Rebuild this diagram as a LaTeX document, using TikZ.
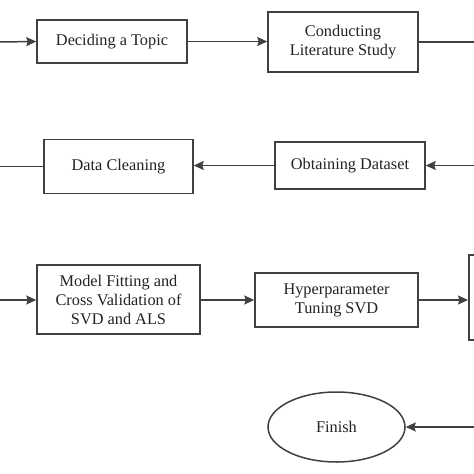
\documentclass[tikz,border=0pt]{standalone}
\usepackage{fontspec}
\setmainfont{Liberation Serif}
\usetikzlibrary{shapes.geometric,arrows.meta}
\definecolor{linegray}{HTML}{404040}
\definecolor{textgray}{HTML}{222222}
\tikzset{
  stepbox/.style={draw=linegray, line width=1.5pt, rectangle, align=center,
    text=textgray, font=\fontsize{16.3}{19}\selectfont, inner sep=0pt},
  endbox/.style={draw=linegray, line width=1.5pt, ellipse, align=center,
    text=textgray, font=\fontsize{16.3}{19}\selectfont, inner sep=0pt},
  flow/.style={draw=linegray, line width=1.5pt,
    -{Stealth[length=10pt,width=9pt,inset=1.5pt]}},
  plainline/.style={draw=linegray, line width=1.5pt}
}
\begin{document}
\begin{tikzpicture}[x=1pt,y=-1pt]
\useasboundingbox (0,0) rectangle (474,474);
\clip (0,0) rectangle (474,474);
% row 1
\node[stepbox, minimum width=150pt, minimum height=43pt] (topic) at (112,41.5) {Deciding a Topic};
\node[stepbox, minimum width=150pt, minimum height=60pt] (lit) at (343,42) {Conducting\\Literature Study};
\coordinate (in1) at (-2,42);
\coordinate (out1) at (476,42);
% row 2
\node[stepbox, minimum width=149pt, minimum height=54pt] (clean) at (118.5,166.5) {Data Cleaning};
\node[stepbox, minimum width=150pt, minimum height=47pt] (obtain) at (350,165.5) {Obtaining Dataset};
\coordinate (in2) at (476,165.5);
\coordinate (out2) at (-2,166.5);
% row 3
\node[stepbox, minimum width=163pt, minimum height=69pt] (model) at (118.5,299.5) {Model Fitting and\\Cross Validation of\\SVD and ALS};
\node[stepbox, minimum width=163pt, minimum height=54pt] (hyper) at (336.5,300) {Hyperparameter\\Tuning SVD};
\node[stepbox, minimum width=40pt, minimum height=85pt, anchor=west] (next) at (468,297.5) {};
\coordinate (in3) at (-2,300);
% row 4
\node[endbox, minimum width=137pt, minimum height=70pt] (finish) at (336.5,427) {Finish};
\coordinate (in4) at (476,427);
% connectors
\draw[flow] (in1) -- (topic.west);
\draw[flow] (topic.east) -- (lit.west|-topic.east);
\draw[plainline] (lit.east) -- (out1);
\draw[flow] (in2) -- (obtain.east);
\draw[flow] (obtain.west) -- (clean.east|-obtain.west);
\draw[plainline] (clean.west) -- (out2);
\draw[flow] (in3) -- (model.west|-in3);
\draw[flow] (model.east|-hyper.west) -- (hyper.west);
\draw[flow] (hyper.east) -- (next.west|-hyper.east);
\draw[flow] (in4) -- (finish.east);
\end{tikzpicture}
\end{document}
